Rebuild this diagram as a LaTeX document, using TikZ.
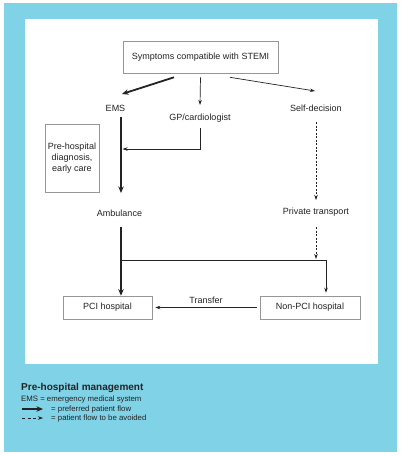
\documentclass[tikz,border=0pt]{standalone}
\usepackage{fontspec}
\setmainfont{Liberation Sans}
\usetikzlibrary{arrows.meta}
\definecolor{panelblue}{RGB}{128,210,230}
\definecolor{boxgrey}{RGB}{150,150,150}
\definecolor{inkgrey}{RGB}{35,35,35}

\begin{document}
\begin{tikzpicture}[x=1pt,y=-1pt]
		\useasboundingbox (0,0) rectangle (400,456);
		\fill[white] (0,0) rectangle (400,456);
		\fill[panelblue] (4,3) rectangle (397,452);
		\fill[white] (25,19) rectangle (378,364);
		\begin{scope}
            [
                every node/.style={
					font=\fontsize{9}{11}\selectfont, text=inkgrey, inner sep=0pt},
				framed/.style = {draw=boxgrey, line width=0.6pt, align=center}
            ]
            
			\node(sym)[framed, minimum width=155pt, minimum height=32pt] at (200.5,57) {Symptoms compatible with STEMI};
			
			\node(ems) at (115.5,108) {EMS};
			\node(gp) at (200,118) {GP/cardiologist};
			\node(self) at (316,108) {Self-decision};
			
			\node(pre)[framed, minimum width=54pt, minimum height=68pt] at (72,158) {Pre-hospital\\diagnosis,\\early care};
			
			\node(amb) at (119.5,213) {Ambulance};
			\node(priv) at (316,212) {Private transport};
			
			\node(pci)[framed, minimum width=89pt, minimum height=23pt] at (107.5,307.5) {PCI hospital};
			\node(npci)[framed, minimum width=100pt, minimum height=23pt] at (310,307.5) {Non-PCI hospital};

			\node(title)[anchor=west, font=\bfseries\fontsize{10}{12}\selectfont] at (21,388) {Pre-hospital management};
			\node(emsdef)[anchor=west, font=\fontsize{7.8}{9}\selectfont] at (21,399) {EMS = emergency medical system};
			\node(pref)[anchor=west, font=\fontsize{7.8}{9}\selectfont] at (51,409) {= preferred patient flow};
			\node(avoid)[anchor=west, font=\fontsize{7.8}{9}\selectfont] at (51,418) {= patient flow to be avoided};

			\coordinate (gpjoin) at (122.5,149);
			\coordinate (split) at (121,260);
			\coordinate (merge) at (316,259);
			\coordinate (preftail) at (22,409);
			\coordinate (avoidtail) at (22,418);
		\end{scope}
		\begin{scope}
            [>={Stealth[length=5pt,width=3.5pt]},
                every node/.style={font=\fontsize{9}{11}\selectfont, text=inkgrey, inner sep=0pt},
                every edge/.style={draw=inkgrey, line width=0.7pt},
				main/.style = {line width=1.8pt, -{Stealth[length=6.5pt,width=5.5pt]}},
				avoidflow/.style = {dash pattern=on 2pt off 1.5pt}
            ]
            \path 
            ([shift={(-26.5pt,-4pt)}]sym.south) edge[main]      ([shift={(6.5pt,14pt)}]ems.center)
            ([yshift=-4pt]sym.south)            edge[->]        ([yshift=13pt]gp.center)
			([shift={(29.5pt,-4pt)}]sym.south)  edge[->]        ([shift={(-1pt,17pt)}]self.center)
			([shift={(5.5pt,-9pt)}]ems.center)  edge[main]      ([shift={(1.5pt,20pt)}]amb.center)
			([yshift=-14pt]self.center)         edge[avoidflow,->] ([yshift=12pt]priv.center)
			([yshift=-15pt]priv.center)         edge[avoidflow,->] (merge)
			([shift={(1.5pt,-14pt)}]amb.center) edge[main]      ([xshift=13.5pt]pci.north)
			(npci.west) edge[->, shorten <=3pt, shorten >=3pt] node[above=4pt]{Transfer} (pci.east)
			(preftail) edge[main] ([xshift=-8pt]pref.west)
			(avoidtail) edge[dash pattern=on 3pt off 2.5pt,->] ([xshift=-8pt]avoid.west);
			\draw[draw=inkgrey, line width=0.7pt, ->] ([yshift=-10pt]gp.center) |- (gpjoin);
			\draw[draw=inkgrey, line width=0.7pt, ->, shorten >=3pt] (split) -| ([xshift=16pt]npci.north);
		\end{scope}
    \end{tikzpicture}
\end{document}
